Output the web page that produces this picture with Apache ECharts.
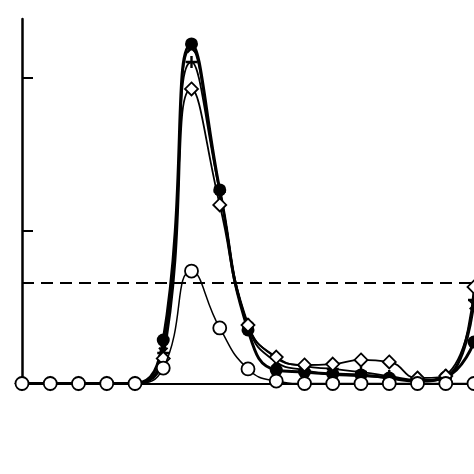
<!DOCTYPE html>
<html>
<head>
<meta charset="utf-8">
<script src="https://cdn.jsdelivr.net/npm/echarts@6/dist/echarts.min.js"></script>
<style>html,body{margin:0;padding:0;background:#fff}#c{width:474px;height:474px}</style>
</head>
<body>
<div id="c"></div>
<script>
var categories = ['1','2','3','4','5','6','7','8','9','10','11','12','13','14','15','16','17'];
var filledCircle = [0,0,0,0,0,0.284,2.219,1.265,0.35,0.088,0.075,0.062,0.056,0.036,0.016,0.042,0.271];
var plusSeries   = [0,0,0,0,0,0.199,2.101,1.252,0.389,0.167,0.114,0.095,0.075,0.049,0.023,0.056,0.546];
var crossSeries  = [0,0,0,0,0,0.206,2.19,1.265,0.376,0.14,0.088,0.056,0.049,0.036,0.016,0.036,0.513];
var diamondSeries= [0,0,0,0,0,0.164,1.925,1.167,0.382,0.173,0.121,0.127,0.154,0.141,0.036,0.049,0.631];
var openCircle   = [0,0,0,0,0,0.101,0.735,0.363,0.095,0.016,0,0,0,0,0,0,0];
var yTicks = [0,1,2];
var threshold = 0.663;

var plusPath = 'path://M4,0H6V4H10V6H6V10H4V6H0V4H4Z';
var crossPath = 'path://M1.4,0L5,3.6L8.6,0L10,1.4L6.4,5L10,8.6L8.6,10L5,6.4L1.4,10L0,8.6L3.6,5L0,1.4Z';
var SM = 0.5;

var chart = echarts.init(document.getElementById('c'), null, {renderer:'canvas'});
chart.setOption({
  animation:false,
  backgroundColor:'#fff',
  grid:{left:22,right:0,top:19,bottom:90.5,containLabel:false},
  xAxis:{type:'category',data:categories,boundaryGap:false,
    axisLine:{lineStyle:{color:'#000',width:2}},
    axisTick:{show:false},axisLabel:{show:false},splitLine:{show:false}},
  yAxis:{type:'value',min:0,max:2.382,interval:1,
    axisLine:{show:true,lineStyle:{color:'#000',width:2.5}},
    axisTick:{show:true,inside:true,length:11,lineStyle:{color:'#000',width:2},customValues:yTicks},
    axisLabel:{show:false},splitLine:{show:false}},
  series:[
    {type:'line',data:filledCircle,smooth:SM,symbol:'circle',symbolSize:13,
      lineStyle:{color:'#000',width:3},itemStyle:{color:'#000'},z:3,
      markLine:{silent:true,symbol:['none','none'],label:{show:false},
        lineStyle:{color:'#000',type:[12,7],width:2},data:[{yAxis:threshold}]}},
    {type:'line',data:plusSeries,smooth:SM,symbol:plusPath,symbolSize:12,
      lineStyle:{color:'#000',width:1.8},itemStyle:{color:'#000'},z:3},
    {type:'line',data:crossSeries,smooth:SM,symbol:crossPath,symbolSize:10,
      lineStyle:{color:'#000',width:1.8},itemStyle:{color:'#000'},z:3},
    {type:'line',data:diamondSeries,smooth:SM,symbol:'diamond',symbolSize:13,
      lineStyle:{color:'#000',width:1.8},itemStyle:{color:'#fff',borderColor:'#000',borderWidth:1.8},z:4},
    {type:'line',data:openCircle,smooth:SM,symbol:'circle',symbolSize:13,
      lineStyle:{color:'#000',width:1.5},itemStyle:{color:'#fff',borderColor:'#000',borderWidth:1.8},z:5}
  ]
});
</script>
</body>
</html>
